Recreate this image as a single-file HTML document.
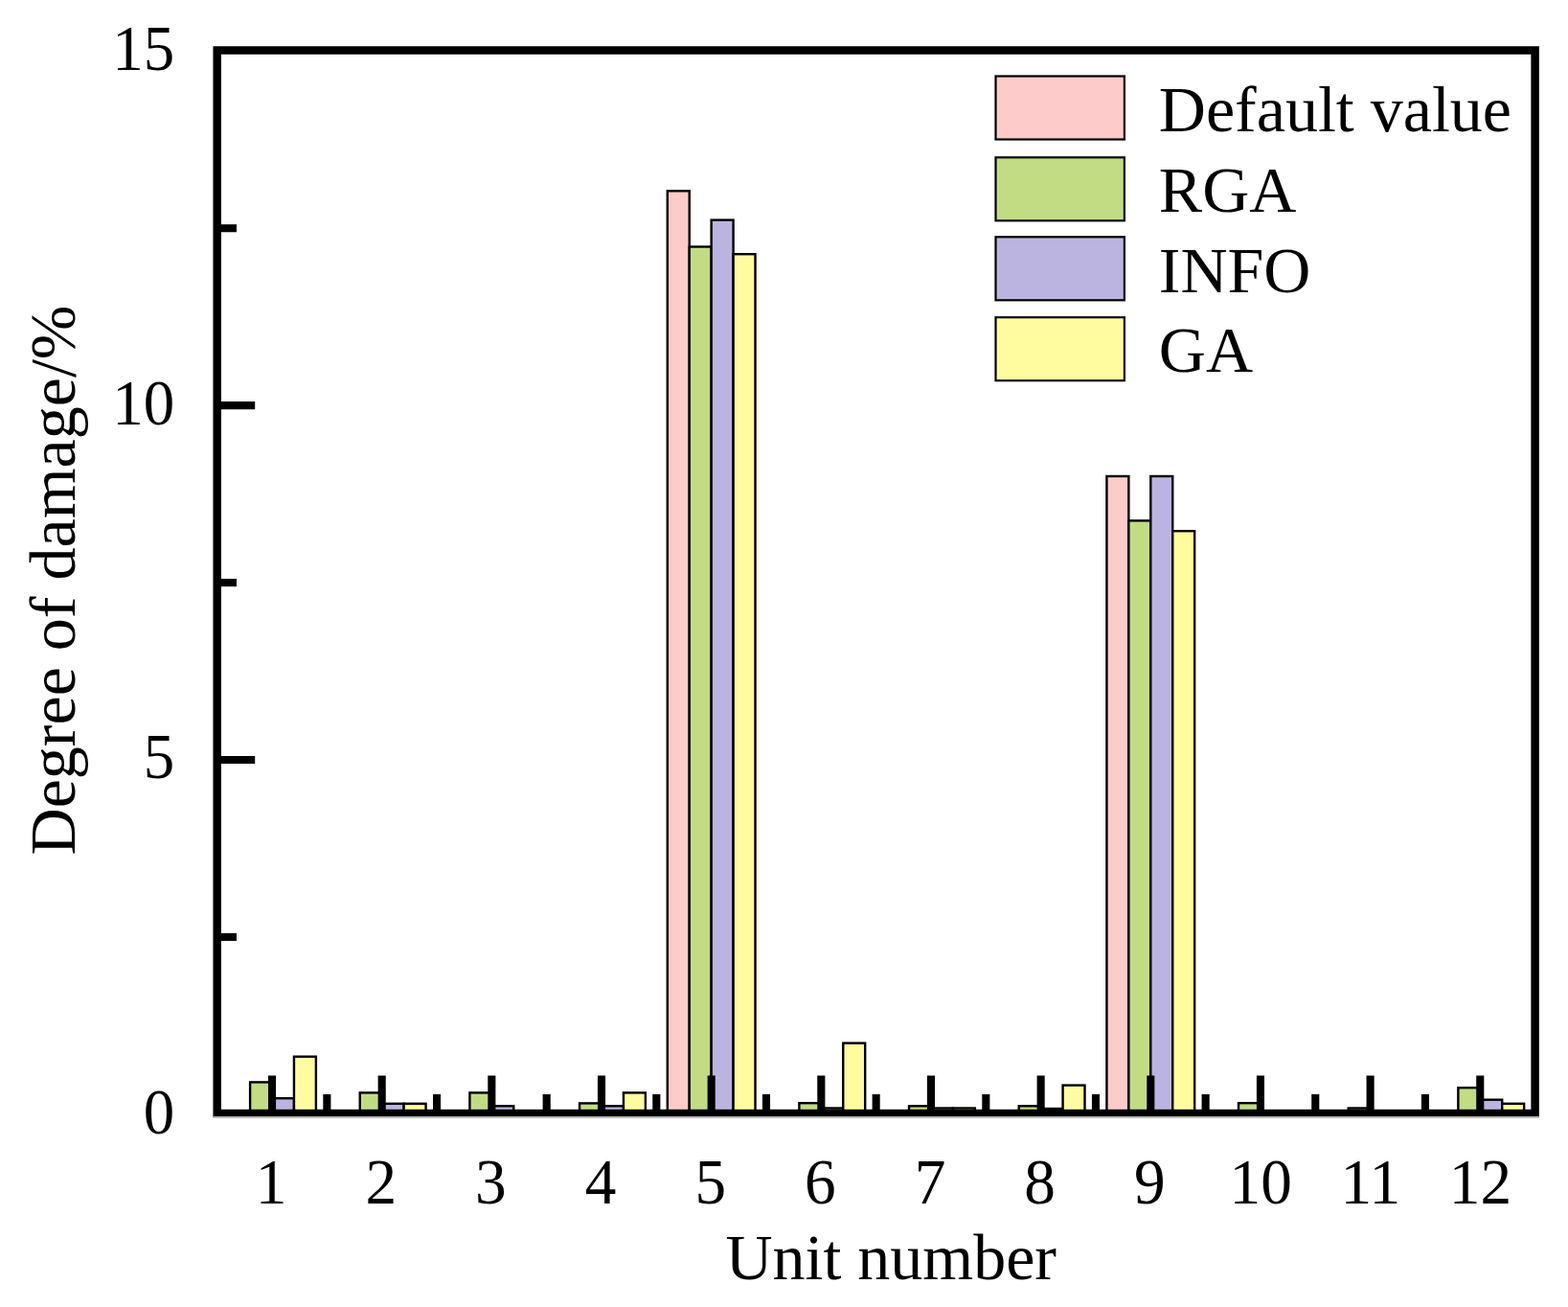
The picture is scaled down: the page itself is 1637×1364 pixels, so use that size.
<!DOCTYPE html>
<html lang="en">
<head>
<meta charset="utf-8">
<title>Degree of damage by unit number</title>
<style>
html,body{margin:0;padding:0;background:#fff;}
body{width:1637px;height:1364px;overflow:hidden;}
svg{display:block;}
text{font-family:"Liberation Serif",serif;font-size:68px;fill:#000;}
.bar{stroke:#000;stroke-width:2.4;}
.ax{stroke:#000;stroke-width:8.5;fill:none;}
.tk{stroke:#000;stroke-width:8.1;fill:none;}
.sw{stroke:#000;stroke-width:2.2;}
</style>
</head>
<body>
<svg width="1637" height="1364" viewBox="0 0 1637 1364">
<rect x="0" y="0" width="1637" height="1364" fill="#ffffff"/>

<g>
<rect class="bar" x="261.10" y="1129.40" width="22.93" height="32.60" fill="#c2dc84"/>
<rect class="bar" x="284.03" y="1146.20" width="22.93" height="15.80" fill="#bcb4e0"/>
<rect class="bar" x="306.96" y="1102.70" width="22.93" height="59.30" fill="#fffca0"/>
<rect class="bar" x="375.76" y="1140.40" width="22.93" height="21.60" fill="#c2dc84"/>
<rect class="bar" x="398.69" y="1151.80" width="22.93" height="10.20" fill="#bcb4e0"/>
<rect class="bar" x="421.62" y="1151.80" width="22.93" height="10.20" fill="#fffca0"/>
<rect class="bar" x="490.41" y="1140.40" width="22.93" height="21.60" fill="#c2dc84"/>
<rect class="bar" x="513.35" y="1154.30" width="22.93" height="7.70" fill="#bcb4e0"/>
<rect class="bar" x="605.07" y="1151.40" width="22.93" height="10.60" fill="#c2dc84"/>
<rect class="bar" x="628.00" y="1154.30" width="22.93" height="7.70" fill="#bcb4e0"/>
<rect class="bar" x="650.94" y="1140.40" width="22.93" height="21.60" fill="#fffca0"/>
<rect class="bar" x="696.80" y="199.30" width="22.93" height="962.70" fill="#fccbca"/>
<rect class="bar" x="719.73" y="257.50" width="22.93" height="904.50" fill="#c2dc84"/>
<rect class="bar" x="742.66" y="229.60" width="22.93" height="932.40" fill="#bcb4e0"/>
<rect class="bar" x="765.59" y="265.20" width="22.93" height="896.80" fill="#fffca0"/>
<rect class="bar" x="834.39" y="1151.20" width="22.93" height="10.80" fill="#c2dc84"/>
<rect class="bar" x="857.32" y="1156.50" width="22.93" height="5.50" fill="#bcb4e0"/>
<rect class="bar" x="880.25" y="1088.60" width="22.93" height="73.40" fill="#fffca0"/>
<rect class="bar" x="949.05" y="1154.30" width="22.93" height="7.70" fill="#c2dc84"/>
<rect class="bar" x="971.98" y="1156.50" width="22.93" height="5.50" fill="#bcb4e0"/>
<rect class="bar" x="994.91" y="1156.50" width="22.93" height="5.50" fill="#fffca0"/>
<rect class="bar" x="1063.71" y="1154.30" width="22.93" height="7.70" fill="#c2dc84"/>
<rect class="bar" x="1086.64" y="1157.00" width="22.93" height="5.00" fill="#bcb4e0"/>
<rect class="bar" x="1109.57" y="1132.60" width="22.93" height="29.40" fill="#fffca0"/>
<rect class="bar" x="1155.43" y="497.00" width="22.93" height="665.00" fill="#fccbca"/>
<rect class="bar" x="1178.36" y="543.40" width="22.93" height="618.60" fill="#c2dc84"/>
<rect class="bar" x="1201.30" y="497.00" width="22.93" height="665.00" fill="#bcb4e0"/>
<rect class="bar" x="1224.23" y="554.20" width="22.93" height="607.80" fill="#fffca0"/>
<rect class="bar" x="1293.02" y="1151.20" width="22.93" height="10.80" fill="#c2dc84"/>
<rect class="bar" x="1407.68" y="1156.50" width="22.93" height="5.50" fill="#c2dc84"/>
<rect class="bar" x="1522.34" y="1135.20" width="22.93" height="26.80" fill="#c2dc84"/>
<rect class="bar" x="1545.27" y="1147.70" width="22.93" height="14.30" fill="#bcb4e0"/>
<rect class="bar" x="1568.20" y="1151.80" width="22.93" height="10.20" fill="#fffca0"/>
</g>
<g class="tk">
<line x1="284.03" y1="1162.00" x2="284.03" y2="1122.50"/>
<line x1="341.36" y1="1162.00" x2="341.36" y2="1142.00"/>
<line x1="398.69" y1="1162.00" x2="398.69" y2="1122.50"/>
<line x1="456.02" y1="1162.00" x2="456.02" y2="1142.00"/>
<line x1="513.35" y1="1162.00" x2="513.35" y2="1122.50"/>
<line x1="570.67" y1="1162.00" x2="570.67" y2="1142.00"/>
<line x1="628.00" y1="1162.00" x2="628.00" y2="1122.50"/>
<line x1="685.33" y1="1162.00" x2="685.33" y2="1142.00"/>
<line x1="742.66" y1="1162.00" x2="742.66" y2="1122.50"/>
<line x1="799.99" y1="1162.00" x2="799.99" y2="1142.00"/>
<line x1="857.32" y1="1162.00" x2="857.32" y2="1122.50"/>
<line x1="914.65" y1="1162.00" x2="914.65" y2="1142.00"/>
<line x1="971.98" y1="1162.00" x2="971.98" y2="1122.50"/>
<line x1="1029.31" y1="1162.00" x2="1029.31" y2="1142.00"/>
<line x1="1086.64" y1="1162.00" x2="1086.64" y2="1122.50"/>
<line x1="1143.97" y1="1162.00" x2="1143.97" y2="1142.00"/>
<line x1="1201.30" y1="1162.00" x2="1201.30" y2="1122.50"/>
<line x1="1258.62" y1="1162.00" x2="1258.62" y2="1142.00"/>
<line x1="1315.95" y1="1162.00" x2="1315.95" y2="1122.50"/>
<line x1="1373.28" y1="1162.00" x2="1373.28" y2="1142.00"/>
<line x1="1430.61" y1="1162.00" x2="1430.61" y2="1122.50"/>
<line x1="1487.94" y1="1162.00" x2="1487.94" y2="1142.00"/>
<line x1="1545.27" y1="1162.00" x2="1545.27" y2="1122.50"/>
<line x1="226.70" y1="977.88" x2="247.00" y2="977.88"/>
<line x1="226.70" y1="792.97" x2="266.20" y2="792.97"/>
<line x1="226.70" y1="608.05" x2="247.00" y2="608.05"/>
<line x1="226.70" y1="423.13" x2="266.20" y2="423.13"/>
<line x1="226.70" y1="238.22" x2="247.00" y2="238.22"/>
</g>
<rect class="ax" x="226.70" y="52.50" width="1375.90" height="1109.50"/>
<rect x="222.60" y="1165" width="1384.10" height="1.2" fill="#b0b0b0"/>
<text transform="translate(182.2,1182.8) scale(0.955,1)" text-anchor="end">0</text>
<text transform="translate(182.2,812.0) scale(0.955,1)" text-anchor="end">5</text>
<text transform="translate(182.2,443.4) scale(0.955,1)" text-anchor="end">10</text>
<text transform="translate(182.2,73.2) scale(0.955,1)" text-anchor="end">15</text>
<text transform="translate(283.0,1255.6) scale(0.96,1)" text-anchor="middle">1</text>
<text transform="translate(397.7,1255.6) scale(0.96,1)" text-anchor="middle">2</text>
<text transform="translate(512.3,1255.6) scale(0.96,1)" text-anchor="middle">3</text>
<text transform="translate(627.0,1255.6) scale(0.96,1)" text-anchor="middle">4</text>
<text transform="translate(741.7,1255.6) scale(0.96,1)" text-anchor="middle">5</text>
<text transform="translate(856.3,1255.6) scale(0.96,1)" text-anchor="middle">6</text>
<text transform="translate(971.0,1255.6) scale(0.96,1)" text-anchor="middle">7</text>
<text transform="translate(1085.6,1255.6) scale(0.96,1)" text-anchor="middle">8</text>
<text transform="translate(1200.3,1255.6) scale(0.96,1)" text-anchor="middle">9</text>
<text transform="translate(1316.2,1255.6) scale(0.96,1)" text-anchor="middle">10</text>
<text transform="translate(1430.8,1255.6) scale(0.96,1)" text-anchor="middle">11</text>
<text transform="translate(1545.5,1255.6) scale(0.96,1)" text-anchor="middle">12</text>
<text x="930.2" y="1335" text-anchor="middle">Unit number</text>
<text transform="translate(78.2,605.5) rotate(-90)" text-anchor="middle">Degree of damage/%</text>
<rect class="sw" x="1039.5" y="79.5" width="134.4" height="66" fill="#fccbca"/>
<text x="1209.8" y="136.5">Default value</text>
<rect class="sw" x="1039.5" y="164.3" width="134.4" height="66" fill="#c2dc84"/>
<text x="1209.8" y="221.0">RGA</text>
<rect class="sw" x="1039.5" y="247.3" width="134.4" height="66" fill="#bcb4e0"/>
<text x="1209.8" y="305.0">INFO</text>
<rect class="sw" x="1039.5" y="331.2" width="134.4" height="66" fill="#fffca0"/>
<text x="1209.8" y="388.0">GA</text>
</svg>
</body>
</html>
